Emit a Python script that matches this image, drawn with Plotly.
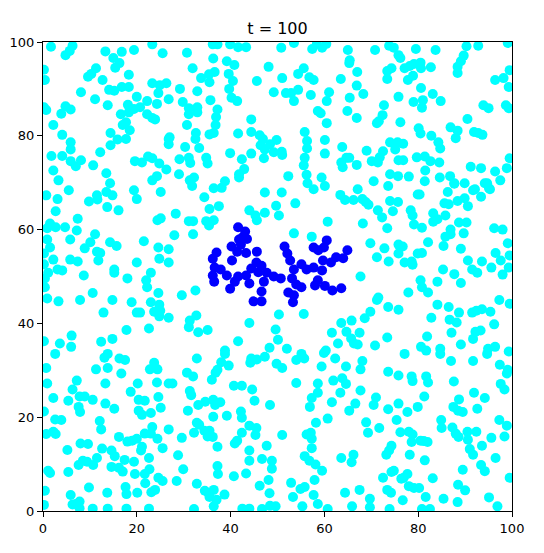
import plotly.graph_objects as go

# Random walkers (cyan)
walker_points = [
(1.7,99),(4.8,97.2),(5.7,98.1),(6.3,99.2),(13.3,98),(15,96.6),(16.8,97.9),(15.4,94.5),(16.3,95.5),(19.4,98.3),(23.3,99.5),(25.5,97.6),(30.7,97.7),(31.9,94.4),(36.2,99.5),(37.2,99.5),(36.3,96.5),(36.6,93.6),(35.4,93.1),(35.5,91.4),(33.7,92.3),(39.9,99.5),(41.6,98.9),(43.3,98.9),(39.2,95.9),(40.8,95.1),(39.6,93.2),(40.5,91.7),(45.6,91.7),(48.1,94.7),(50.8,98.8),(53.5,99.8),(55.6,94.4),(54.4,93.2),(51,92.3),(57.4,98.5),(59.5,98.8),(60.4,99.6),(58.4,99.6),(56.8,92.5),(57.7,91.9),(63.5,92.1),(65,98.3),(65.4,96.1),(65.3,95.5),(67,93.6),(70.8,98.3),(73.4,93.8),(74.3,94.4),(73.4,92.1),(73.8,99.2),(74.8,98.8),(75.8,97.2),(76.2,96.6),(77.1,94.4),(78.2,94.9),(79.1,95.3),(80.6,94.4),(80.5,95.6),(77.8,91.9),(78.9,92.8),(79.5,98.5),(82.7,94.6),(83.7,98.3),(88.4,94.7),(89.1,95.9),(89.7,97.1),(90.3,99.1),(88.4,93.4),(92.8,99.2),(99.1,99.8),(96.4,91.9),(98.2,92.3),(99.5,94),(0.2,94.1),(0.4,91.9),(12.7,91.9),(11.3,94.4),(10.3,93.2),(9.6,92.6),(18.3,93),
(8.1,89.3),(11.1,87.8),(14.1,89.8),(15.2,89.6),(16.8,90.4),(18.3,90.4),(20,88.3),(22.2,87.4),(23.3,91.2),(24.6,89.1),(24.9,90.8),(26.3,91.2),(26.8,87.8),(24.3,86.8),(29.2,90),(29.8,87.2),(31.1,85.9),(31.1,84.6),(32.9,89.5),(32.9,86.1),(32.9,85),(35.7,87.6),(37.2,85.6),(36.9,84),(36.8,82.3),(35.5,80.3),(36.4,80.6),(30.7,82.3),(39.7,90),(40.2,88.1),(41.4,87.4),(44.4,83.5),(41.6,80.5),(44.4,80.8),(49.2,89.3),(51.8,89.1),(52.9,89.1),(53.5,87.4),(54.4,89.8),(58.6,85.3),(59.2,84.8),(57.1,88.7),(60.5,87.4),(61,89.3),(60.5,82.7),(64.9,85.3),(65.4,88.1),(66.9,90.7),(66.9,83.8),(68.3,88.9),(72.7,86.5),(72.4,84.4),(71.2,82.7),(71.6,83.1),(75.8,88.3),(76.2,82.9),(79,87.2),(80.6,90.2),(81,87.6),(80.8,86),(83.1,88.9),(84.8,87.4),(80.1,81.6),(80.5,80.5),(82.8,80),(86.9,81.8),(88.4,81.1),(88,79.5),(90.5,83.6),(91.9,80.8),(93.9,86.5),(95,85.9),(92.8,80.6),(93.7,80.2),(99.3,90.4),(98.7,86.5),(99.3,85.9),(0.7,85.5),(0.2,86.1),(2.2,82.3),(3.9,84.7),(4.8,86.3),(5.9,85.6),(4.1,80.2),(16.6,84.6),(18.1,86.6),(18.3,85),(19.4,85.7),(20.7,86.1),(17,82.3),(17.7,82.9),(18.5,81.2),(14.4,80.6),(13.8,86.5),(22.2,84.6),(23.3,83.8),(23.9,83.5),(27,79.7),(32.6,80.6),
(1.8,75.7),(4.1,75.7),(5.9,78.6),(5.9,77.1),(5.9,74.6),(7,73.5),(8.1,74.8),(2.2,72.6),(3.3,70.5),(10.7,73.7),(12.2,76.5),(13.5,72),(14.3,69.9),(14.4,78),(15.9,79.2),(17.7,79.3),(19.6,74.6),(21.1,74.3),(22.4,75.6),(23.3,75.2),(24.8,74.1),(24.3,71.4),(23.3,70.5),(26.3,72.8),(26.8,79.3),(26.8,78.2),(29.1,75),(29,71.8),(30.3,77.6),(31.1,75.3),(31.4,74.2),(31.3,70.5),(32.2,71.1),(31.8,69.3),(32.5,79.3),(33.3,77.4),(34.8,75.3),(35.1,74.1),(39.9,76.3),(42.4,75),(42.9,72.9),(41.8,71.8),(41.8,71.1),(44.4,76.2),(46.2,80.1),(46.9,79.3),(46.4,78),(47.3,77.1),(47.1,75.2),(48.4,78.2),(49.2,76.5),(49.8,79.1),(50.9,76.6),(51,75.9),(52.3,71.4),(55.8,80.8),(56.3,78.9),(56.3,77.3),(55.8,75.3),(55.6,73.7),(56.2,71.7),(56.4,69.9),(57.7,68.6),(59.4,71.1),(60.1,69.3),(60.1,76.2),(60.1,79.1),(63.8,77.6),(63.6,74.3),(63.9,73.3),(64.7,75.3),(65.3,75.3),(66.9,73.8),(69,76.8),(70.1,74.6),(71.4,74.3),(71.8,75.4),(72.5,76.7),(70.5,70.3),(74,78.6),(75.1,77.1),(74,71.8),(75.7,71.4),(75.6,78.6),(76.8,78.3),(75.8,74.8),(76.8,74.8),(78,71.3),(79.7,75.4),(81.4,75.6),(82.6,74.6),(81.5,72.6),(81.4,70.3),(80.3,67.5),(84.3,78.6),(84.7,77.3),(84.5,74.3),(84.6,71.1),(86.8,71.4),(87.7,69.9),(89.9,69.9),(91.2,73.4),(91.7,68.4),(93.4,73.1),(94.2,69.9),(95.1,68.8),(96.4,72.4),(97.5,70.5),(98.9,73.1),(99.5,75.2),
(0.7,67.3),(3.1,66.5),(2.7,63.9),(5.5,68.4),(1.5,61.3),(0.9,60.3),(2.7,60.5),(4.7,60.5),(7.4,62.3),(9.8,66),(11.5,67.3),(11.6,66.4),(13.7,64.8),(13.5,68),(14.8,67.3),(16.1,64.1),(19.4,68.4),(20,66.5),(25.1,68),(24.4,62),(25.1,62.4),(28.3,63.4),(31.1,61.8),(32,61.8),(32,59),(34.4,66.9),(35.5,64.4),(34.8,61.8),(35.4,60.9),(36.4,62),(36.4,68.8),(37.5,65),(38.1,68.9),(38.8,70.3),(44,64.1),(45.3,63),(45.6,62),(47.3,67.9),(47.3,63.6),(49.7,65.1),(50.3,63),(50.9,67.9),(53.8,65.6),(60.7,61.7),(63.4,67.4),(64.4,66.3),(66.2,66.3),(67.1,68.6),(68.1,66.5),(68.8,65.9),(69.4,65.3),(68.2,61.3),(71.4,64.1),(72.3,62.6),(73.4,60.3),(73.6,69.3),(74,66.1),(74.6,63.9),(75.7,65.9),(78.4,64.1),(78.8,63),(79.1,61.1),(80.8,60.4),(79.9,67.5),(83.2,63.5),(83.2,61.7),(84.1,62.2),(85.8,63),(85.6,65.6),(86.5,65.4),(86.3,68),(87.7,69.8),(88.4,66.1),(88.7,61.5),(90.3,61.5),(89.9,66.7),(90.6,65),(92.1,68.6),(93.4,67),(94.7,69.9),(95.3,68.6),(86.9,60),(89.7,59.2),(96.2,60.3),(98,60),
(0.9,57.9),(1.5,56.2),(0.2,54.9),(0.2,52.6),(0.4,49.6),(1.1,50.8),(0.4,47.7),(0.9,45.3),(2.2,53.6),(3.1,51.5),(4.1,51.3),(3.3,44.7),(5.8,57.9),(5.8,53.6),(7.4,53.2),(7.2,59.8),(8.9,56),(8.7,50.2),(7.9,45),(10.1,57.3),(11.1,59),(11.5,55.3),(12.2,55),(11.8,53.4),(10.6,46.5),(12.9,42.3),(14.3,57.3),(15.7,56.5),(15.2,51.5),(15.2,50.8),(14.8,45),(18,49.6),(18.9,44.5),(20,53),(20,42.3),(20.7,42.3),(21.5,57.5),(22,49.2),(22.2,47.7),(23,50.8),(23,44.5),(24.6,56.2),(24.8,53.8),(24.6,46.5),(24.8,44),(25,42.7),(26.8,55.8),(26.8,53),(28,58.8),(29.6,46),(32.5,47),(23.7,42.5),(24.8,41.5),(26.8,41.2),
(53.5,59.2),(57.3,58.5),(67.7,50),(69.8,57.1),(71.2,54.1),(72.8,56),(73.7,53.2),(75.8,56.8),(75.8,54.9),(76.7,56.4),(77.1,53),(78.6,53.2),(78.8,52.5),(79.9,54.9),(80.8,55),(82.1,57.3),(80.5,49.2),(80.8,47.7),(82.1,46.6),(84.1,48.9),(85.3,51.5),(85.4,56.5),(85.8,58.5),(86.9,59),(87.7,50.5),(89.1,55.9),(89.1,48.6),(90.6,53.4),(91.5,51.5),(92.6,50.8),(93.6,53.2),(95.6,51.9),(96.5,55),(97.6,53.4),(98,50.4),(99.1,57.1),(99.5,54.5),(99.3,51.9),(97.3,45),(99.5,44.2),(77.9,46.6),(73.6,43.5),(75.8,42.9),(71.2,45),(71.5,45.5),(69.8,42.5),(68.6,41.1),(84.1,44),(82.8,41.2),(86.5,43.5),(86.7,40.8),(88.2,40.2),(88.7,42.3),(91.5,42.3),(92.4,42.7),(93.6,43),(95.4,42.5),(96.2,39.8),
(44,40.1),(50.3,41.9),(55.6,42),(63.6,40.1),(65.8,40.6),
(0.2,36.2),(0.7,30.5),(0.9,27.2),(0.2,21.2),(2.2,24.1),(2.6,33.5),(3.6,35.7),(6.1,37.4),(6,35),(6.3,25.9),(7.2,27.8),(5.4,23.5),(7.8,24.4),(8.9,24.4),(7.6,22.2),(7.9,21.1),(10.6,23.7),(11.3,30.2),(12.4,36.1),(13.1,32.7),(13.8,33.5),(13.8,30.5),(13.3,27.2),(13.3,22.9),(14.8,36.7),(16.3,32.5),(16.7,29.3),(17.5,32.2),(17.8,38.6),(15.2,21.8),(18.7,25.4),(20.4,23.7),(20.2,27.2),(20.4,21.4),(21.1,20.5),(21.7,23.5),(22.6,38.9),(22.8,30.2),(23.7,31.6),(24.4,30.2),(24.3,27.4),(24.6,24.3),(25.1,22),(23,20.9),(26.8,27.2),(27.6,27.2),(30.7,29.5),(32,28.7),(31.3,25.6),(31.6,24.7),(30.9,21.4),(32.8,32.5),(32.7,41.7),(31.3,40.6),(31.1,39.2),(33.1,38.1),(35.1,38.6),(33.1,22.6),(34.6,23.3),(36,28),(36.8,29.5),(37.2,30.1),(36.3,23.7),(36.7,22.6),(37.8,23.2),(36.3,20.1),(38,31.7),(38.8,34.2),(38.8,33.5),(39.6,31),(39.2,20.3),(41.6,36.2),(40.7,26.7),(42.4,26.7),(42.2,21.2),(42.4,19.9),(44.2,31.6),(44.4,32.5),(45.6,32.3),(44.6,25.9),(45.1,23.5),(47.3,32.9),(48.3,34.8),(48.4,22.6),(49.6,38.7),(50.1,36.5),(49.8,31.4),(51,30.5),(52,34.6),(54,32.2),(55.1,33.5),(55.7,32.5),(54,27.3),(57.3,24.1),(56.9,22.2),(58.6,27.2),(58.6,25.2),(59.4,30.8),(59.9,33.7),(60.3,34.2),(61.6,38),(62.3,32.5),(62.9,35.7),(61.9,27.8),(63.4,25.2),(61.6,23.2),(64.6,30.8),(64.7,38.2),(65.7,36.8),(66.3,35.7),(67.1,35.5),(67.5,38),(63.8,28.3),(64.6,27.1),(65.3,21.4),(66.6,22.9),(67.7,30.2),(68.1,32),(67.7,25.7),(68.9,18.9),(70.5,22.6),(71,24.2),(70.8,35.3),(73.4,37),(73.6,29.7),(73.6,21.7),(75.8,28.9),(75.8,22.9),(77.1,33.5),(75.4,19.4),(77.7,21.1),(78.6,28.7),(78.8,27.7),(79.9,22.2),(80.6,35),(81.7,34.2),(81.9,37.2),(81.7,28.7),(82.1,27.4),(81.3,24.4),(84.7,34.6),(84.7,33.5),(87,32),(87.6,27.6),(87.1,38),(87.5,22.2),(88.7,23.8),(88.5,21.4),(89.5,21.1),(89.1,35.5),(91.7,36.7),(92.2,38.2),(93.3,38.5),(91.7,32),(91.9,25.2),(92.6,21.8),(94.2,24.1),(94.7,33.5),(94.9,34.6),(96.4,35),(97.4,31.2),(97.6,27.1),(98.4,25.9),(99.1,30.1),(99.3,34),(98.9,29.3),
(0.7,16.4),(2.2,16.9),(2.6,19.5),(3.9,19.4),(2.7,16.4),(1.1,8.6),(1.5,8.1),(0.4,4.3),(0.2,1.3),(5.2,13),(5.4,8.3),(5.9,3.4),(6.3,1.4),(7,1.5),(7.8,2),(7.8,0.6),(8,14.4),(7.6,9.8),(8.5,10.7),(9.6,14.3),(9.8,5),(9.4,10.5),(10.7,9.8),(10.6,0.5),(11.5,11.3),(12.1,19.2),(12.4,17.4),(12.6,13.3),(13.7,3.9),(13.8,0.5),(14.6,12.9),(15.3,11.7),(14.6,9.4),(16.2,9.2),(16.2,15.8),(17,8.4),(17.6,5.1),(17.8,3.6),(17.4,10.9),(17.8,0.5),(18,14.8),(19,15),(19.4,10.5),(19.6,7.9),(20.1,3.9),(20,15.4),(20.9,12.9),(21.1,13.7),(21.7,7.9),(21.8,5.9),(21.7,16.5),(23,16.5),(22.6,11.3),(22.7,8.9),(23.3,17.9),(23.1,4),(23.9,4.5),(22.6,0.5),(24.4,15.4),(24.6,7.1),(25.5,6.4),(25.5,13.4),(26.8,17.4),(28.5,6.4),(28.8,11.9),(29.6,15.6),(29.9,8.9),(32.2,16.7),(32.8,18.8),(32.2,0.4),(32.8,5.8),(33.3,18.4),(34.4,17.1),(35.5,17.1),(35.1,15.9),(36.2,15.8),(37.2,13.7),(34.5,4.3),(35.3,3.8),(35.5,3),(36.4,4.5),(37,2.4),(36.4,1),(37.2,9.6),(37.3,7.9),(38.7,3.5),(40.9,14.4),(41.4,15),(40.7,7.4),(42.4,16.7),(43.3,8),(44,12.9),(44,10.7),(44,18.2),(45.3,16.2),(45.5,17.7),(42.5,0.5),(44,0.5),(46.2,5.4),(46.7,11.1),(47.7,13.9),(48.8,10.7),(48.8,9),(48.1,6.6),(48.3,3.8),(48.4,1.1),(49.6,1),(46.7,0.4),(51,16.2),(52.9,6),(53.3,3),(54.9,4.7),(55.8,5.1),(55.8,11.7),(56.8,10.7),(56.2,16.3),(57.1,16.7),(57.3,15.4),(57.3,13.4),(55.3,1),(57.7,3.4),(57.9,6.6),(58.1,9.9),(58.2,18.8),(58.6,1.5),(59.5,8.6),(60.7,0.4),(60.7,19.7),(63.6,11.3),(64.4,3.9),(65.8,10.4),(66.2,12),(65.9,1),(67.5,4.5),(69.7,2.6),(69.7,0.8),(69.3,16.7),(71.7,17.7),(72.5,7.1),(73.2,12),(73.8,12.9),(74.3,13.9),(74.3,8.3),(74.8,8.6),(73.4,4.5),(74.2,3.9),(73.9,0.4),(76.2,16.8),(76.4,6.9),(76.9,7.1),(77.7,7.9),(76.7,2.3),(78,16.9),(78.8,16.3),(78.6,14.7),(78.2,12),(78,5.3),(79.1,4.9),(80.2,4.9),(80.5,15),(81.2,14.9),(82,14.7),(81.4,10.8),(81.6,3),(80.8,0.4),(82.5,0.4),(83.1,7),(85.4,2.6),(84.9,19.4),(85,17.7),(87.3,17.8),(88,16.5),(88.6,15.8),(88.5,5.6),(88.4,1.9),(89.5,8.8),(90,4.4),(90.5,16.9),(90.6,15.2),(91,13.2),(91.7,12),(92.4,16.9),(93.6,13.9),(93.4,9.8),(94.2,8.5),(95.1,2.9),(95.6,15.6),(96.5,11.3),(97.3,19.4),(98.4,15.9),(98.9,18.2),(96.9,1),(99.5,7.1),
]

# Aggregated cluster (blue)
cluster_points = [
(41.6,60.5),(43.1,59.6),(41.8,57.9),(42.5,58.3),(43.5,58),(42.2,56.8),(40.2,56.4),(41.4,55.3),(43.3,55),(45.6,55.3),(40.3,53.4),(37,55.1),(36.2,53.8),(36.6,51.9),(37.9,51.5),(36.2,50.2),(36.5,48.9),(39.2,50.2),(39.9,47.4),(40.9,48.9),(41.6,50),(43.3,50.2),(44,48.5),(44.4,51.7),(45.5,53),(46.6,52.3),(45.9,50.9),(47.7,50.8),(47.1,48.9),(46.6,46.8),(46.6,44.7),(44.9,44.7),(49.2,50),(50.7,49.6),(51.5,56.4),(52.1,54.9),(52.7,53.4),(53.5,51.5),(53.1,49.6),(54,48.3),(55.1,47.7),(52.3,46.6),(53.5,46),(53.3,44.5),(55.1,52.6),(56.2,51.5),(57.7,51.9),(57.7,56.2),(58.7,55.6),(59.9,56.2),(60.5,57.7),(59.7,53.4),(61.4,53),(62.5,54.1),(64,53.9),(64.9,55.6),(59.5,51.3),(58.6,49.2),(58,48.1),(60.1,48),(61.7,47),(63.6,47.5),
]

tick_values = [0, 20, 40, 60, 80, 100]
title_text = "t = 100"

walker_x = [p[0] for p in walker_points]
walker_y = [p[1] for p in walker_points]
cluster_x = [p[0] for p in cluster_points]
cluster_y = [p[1] for p in cluster_points]

fig = go.Figure()
fig.add_trace(go.Scatter(x=walker_x, y=walker_y, mode="markers",
                         marker=dict(color="#00ffff", size=10, line=dict(width=0)),
                         hoverinfo="skip", showlegend=False))
fig.add_trace(go.Scatter(x=cluster_x, y=cluster_y, mode="markers",
                         marker=dict(color="#0000ff", size=10, line=dict(width=0)),
                         hoverinfo="skip", showlegend=False))

axis_common = dict(range=[0, 100], tickvals=tick_values, ticktext=[str(v) for v in tick_values],
                   showgrid=False, zeroline=False, showline=True, mirror=True,
                   linecolor="black", linewidth=1, ticks="outside", ticklen=5,
                   tickcolor="black", tickwidth=1, automargin=False,
                   tickfont=dict(family="DejaVu Sans", size=13, color="black"))

# the page body adds an 8 px offset, so margins are shifted to compensate
fig.update_layout(
    width=544, height=553,
    margin=dict(l=35, r=40, t=34, b=50),
    paper_bgcolor="white", plot_bgcolor="white",
    title=dict(text=title_text, x=0.5, xref="paper", y=1 - 20 / 553, yref="container",
               xanchor="center", yanchor="middle",
               font=dict(family="DejaVu Sans", size=16, color="black")),
    xaxis=axis_common, yaxis=axis_common,
)

fig.write_html("out.html")
